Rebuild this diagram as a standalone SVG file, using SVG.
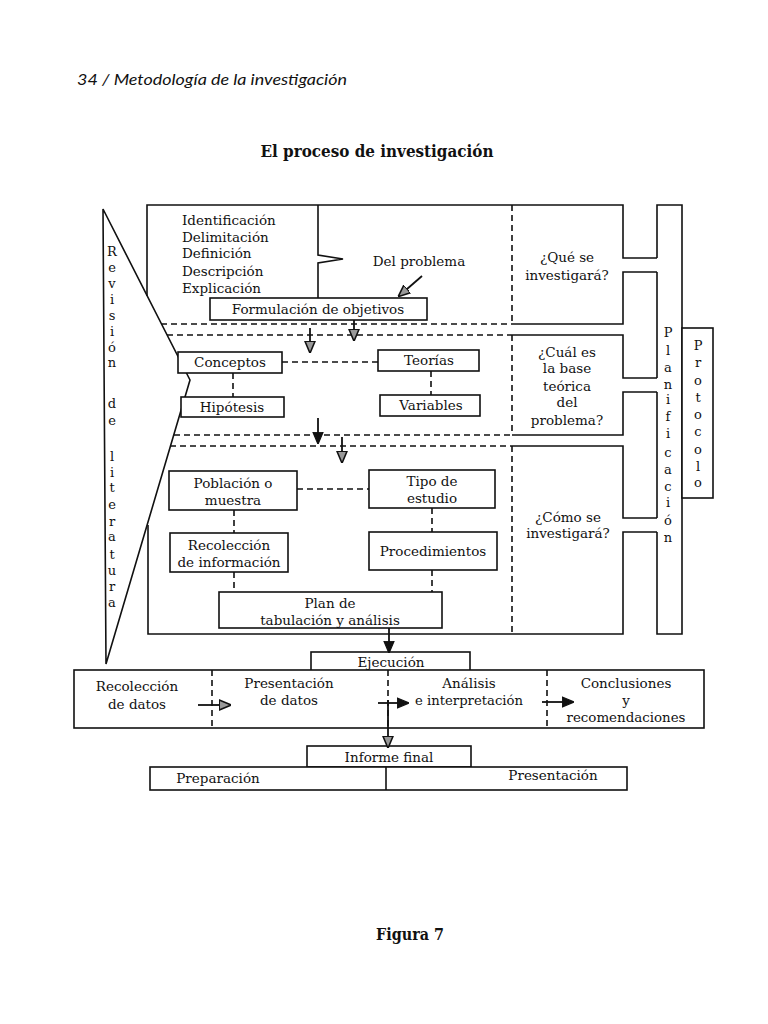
<svg xmlns="http://www.w3.org/2000/svg" width="768" height="1024" viewBox="0 0 768 1024">
<style>
.bg{fill:#fff}
.ln{fill:none;stroke:#111;stroke-width:1.6}
.bx{fill:#fff;stroke:#111;stroke-width:1.6}
.ds{fill:none;stroke:#111;stroke-width:1.6;stroke-dasharray:6 4}
.ar{fill:none;stroke:#111;stroke-width:1.8}
.t{font-family:"DejaVu Serif","Liberation Serif",serif;font-size:13.5px;fill:#111}
.c{text-anchor:middle}
.v{font-family:"DejaVu Serif","Liberation Serif",serif;font-size:13px;fill:#111;text-anchor:middle}
</style>
<defs>
<marker id="hg" viewBox="0 0 10 10" markerWidth="12" markerHeight="12" markerUnits="userSpaceOnUse" refX="9" refY="5" orient="auto">
<path d="M0,0.8 L10,5 L0,9.2 Z" fill="#999" stroke="#111" stroke-width="1.3"/>
</marker>
<marker id="hb" viewBox="0 0 10 10" markerWidth="12" markerHeight="12" markerUnits="userSpaceOnUse" refX="9" refY="5" orient="auto">
<path d="M0,0.8 L10,5 L0,9.2 Z" fill="#111" stroke="#111" stroke-width="1"/>
</marker>
</defs>
<rect class="bg" x="0" y="0" width="768" height="1024"/>

<text x="77" y="85" font-family="Lato,'Liberation Sans',sans-serif" font-style="italic" font-size="15" fill="#111" textLength="270" lengthAdjust="spacingAndGlyphs">34 / Metodología de la investigación</text>
<text x="377" y="157" font-family="'DejaVu Serif','Liberation Serif',serif" font-weight="bold" font-size="16" fill="#111" text-anchor="middle" textLength="233" lengthAdjust="spacingAndGlyphs">El proceso de investigación</text>

<g id="revision">
<path class="ln" d="M103,209 L190,380 L106,664 Z"/>
<g class="v">
<text x="112" y="256">R</text><text x="112" y="272">e</text><text x="112" y="288">v</text><text x="112" y="304">i</text><text x="112" y="320">s</text><text x="112" y="336">i</text><text x="112" y="352">ó</text><text x="112" y="367">n</text>
<text x="112" y="408">d</text><text x="112" y="425">e</text>
<text x="112" y="461">l</text><text x="112" y="477">i</text><text x="112" y="492">t</text><text x="112" y="509">e</text><text x="112" y="526">r</text><text x="112" y="541">a</text><text x="112" y="559">t</text><text x="112" y="575">u</text><text x="112" y="591">r</text><text x="112" y="607">a</text>
</g>
</g>

<g id="frame">
<path class="ln" d="M147,296 L147,205 L623,205 L623,258 L657,258"/>
<path class="ln" d="M657,272 L623,272 L623,324 L512,324"/>
<path class="ln" d="M512,335 L623,335 L623,378 L657,378"/>
<path class="ln" d="M657,392 L623,392 L623,435 L512,435"/>
<path class="ln" d="M512,446 L623,446 L623,518 L657,518"/>
<path class="ln" d="M657,532 L623,532 L623,634 L148,634 L148,525"/>
<path class="ds" d="M512,205 L512,324 M512,335 L512,435 M512,446 L512,634"/>
<path class="ds" d="M161,324 L512,324 M167,335 L512,335 M174,435 L512,435 M170,446 L512,446"/>
<path class="ln" d="M318,205 L318,255 L343,259 L318,263 L318,298"/>
</g>

<g id="planificacion">
<path class="ln" d="M657,258 L657,205 L682,205 L682,634 L657,634 L657,532 M657,518 L657,392 M657,378 L657,272"/>
<g class="v">
<text x="668" y="337">P</text><text x="668" y="355">l</text><text x="668" y="372">a</text><text x="668" y="389">n</text><text x="668" y="404">i</text><text x="668" y="421">f</text><text x="668" y="438">i</text><text x="668" y="457">c</text><text x="668" y="474">a</text><text x="668" y="491">c</text><text x="668" y="507">i</text><text x="668" y="525">ó</text><text x="668" y="542">n</text>
</g>
</g>

<g id="protocolo">
<rect class="bx" x="682" y="328" width="31" height="170"/>
<g class="v">
<text x="698" y="350">P</text><text x="698" y="367">r</text><text x="698" y="385">o</text><text x="698" y="402">t</text><text x="698" y="419">o</text><text x="698" y="436">c</text><text x="698" y="454">o</text><text x="698" y="471">l</text><text x="698" y="487">o</text>
</g>
</g>

<g id="problema">
<text class="t" x="182" y="225">Identificación</text>
<text class="t" x="182" y="242">Delimitación</text>
<text class="t" x="182" y="258">Definición</text>
<text class="t" x="182" y="276">Descripción</text>
<text class="t" x="182" y="293">Explicación</text>
<text class="t c" x="419" y="266">Del problema</text>
</g>

<g id="objetivos">
<rect class="bx" x="210" y="298" width="217" height="22"/>
<text class="t c" x="318" y="314">Formulación de objetivos</text>
</g>

<g id="q1"><text class="t c" x="567" y="262">¿Qué se</text><text class="t c" x="567" y="280">investigará?</text></g>
<g id="q2"><text class="t c" x="567" y="357">¿Cuál es</text><text class="t c" x="567" y="373">la base</text><text class="t c" x="567" y="391">teórica</text><text class="t c" x="567" y="407">del</text><text class="t c" x="567" y="425">problema?</text></g>
<g id="q3"><text class="t c" x="568" y="522">¿Cómo se</text><text class="t c" x="568" y="538">investigará?</text></g>

<g id="conceptos"><rect class="bx" x="178" y="352" width="104" height="21"/><text class="t c" x="230" y="367">Conceptos</text></g>
<g id="teorias"><rect class="bx" x="378" y="350" width="101" height="21"/><text class="t c" x="429" y="365">Teorías</text></g>
<g id="hipotesis"><rect class="bx" x="181" y="397" width="103" height="20"/><text class="t c" x="232" y="412">Hipótesis</text></g>
<g id="variables"><rect class="bx" x="380" y="395" width="100" height="21"/><text class="t c" x="431" y="410">Variables</text></g>

<g id="poblacion"><rect class="bx" x="169" y="471" width="128" height="39"/><text class="t c" x="233" y="488">Población o</text><text class="t c" x="233" y="505">muestra</text></g>
<g id="tipo"><rect class="bx" x="369" y="470" width="126" height="38"/><text class="t c" x="432" y="486">Tipo de</text><text class="t c" x="432" y="503">estudio</text></g>
<g id="recoleccion"><rect class="bx" x="170" y="533" width="118" height="39"/><text class="t c" x="229" y="550">Recolección</text><text class="t c" x="229" y="567">de información</text></g>
<g id="procedimientos"><rect class="bx" x="369" y="532" width="128" height="38"/><text class="t c" x="433" y="556">Procedimientos</text></g>
<g id="plan"><rect class="bx" x="219" y="592" width="223" height="36"/><text class="t c" x="330" y="608">Plan de</text><text class="t c" x="330" y="625">tabulación y análisis</text></g>

<g id="ejecucion"><rect class="bx" x="311" y="652" width="159" height="19"/><text class="t c" x="391" y="667">Ejecución</text></g>
<g id="fila-ejecucion">
<rect class="bx" x="74" y="670" width="630" height="58"/>
<path class="ds" d="M212,670 L212,728 M388,670 L388,728 M547,670 L547,728"/>
<text class="t c" x="137" y="691">Recolección</text><text class="t c" x="137" y="709">de datos</text>
<text class="t c" x="289" y="688">Presentación</text><text class="t c" x="289" y="705">de datos</text>
<text class="t c" x="469" y="688">Análisis</text><text class="t c" x="469" y="705" textLength="108" lengthAdjust="spacingAndGlyphs">e interpretación</text>
<text class="t c" x="626" y="688">Conclusiones</text><text class="t c" x="626" y="705">y</text><text class="t c" x="626" y="722" textLength="119" lengthAdjust="spacingAndGlyphs">recomendaciones</text>
</g>

<g id="informe"><rect class="bx" x="307" y="746" width="164" height="21"/><text class="t c" x="389" y="762">Informe final</text></g>
<g id="fila-informe">
<rect class="bx" x="150" y="767" width="477" height="23"/>
<path class="ln" d="M386,767 L386,790"/>
<text class="t c" x="218" y="783">Preparación</text>
<text class="t c" x="553" y="780">Presentación</text>
</g>

<g id="connectors">
<path class="ds" d="M282,362 L378,362"/>
<path class="ds" d="M233,373 L233,397"/>
<path class="ds" d="M431,371 L431,395"/>
<path class="ds" d="M297,489 L369,489"/>
<path class="ds" d="M234,510 L234,533"/>
<path class="ds" d="M234,572 L234,592"/>
<path class="ds" d="M432,508 L432,532"/>
<path class="ds" d="M432,570 L432,592"/>
<path class="ar" d="M422,276 L399,296" marker-end="url(#hg)"/>
<path class="ar" d="M354,320 L354,340" marker-end="url(#hg)"/>
<path class="ar" d="M310,328 L310,352" marker-end="url(#hg)"/>
<path class="ar" d="M318,418 L318,443" marker-end="url(#hb)"/>
<path class="ar" d="M342,437 L342,462" marker-end="url(#hg)"/>
<path class="ar" d="M389,628 L389,652" marker-end="url(#hb)"/>
<path class="ar" d="M198,705 L230,705" marker-end="url(#hg)"/>
<path class="ar" d="M378,703 L408,703" marker-end="url(#hb)"/>
<path class="ar" d="M542,702 L573,702" marker-end="url(#hb)"/>
<path class="ar" d="M388,700 L388,747" marker-end="url(#hg)"/>
</g>

<text x="410" y="940" font-family="'DejaVu Serif','Liberation Serif',serif" font-weight="bold" font-size="16" fill="#111" text-anchor="middle" textLength="68" lengthAdjust="spacingAndGlyphs">Figura 7</text>
</svg>
